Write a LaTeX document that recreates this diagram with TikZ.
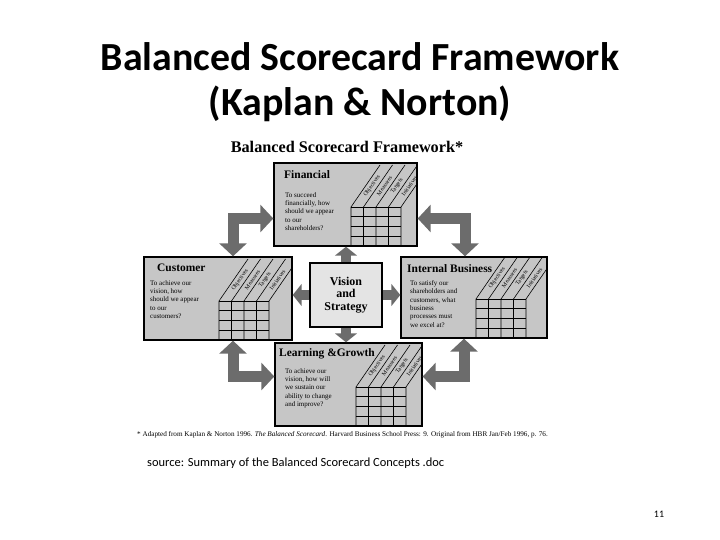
\documentclass[tikz,border=0pt]{standalone}
\usepackage{fontspec}
\setmainfont{Liberation Serif}
\newfontfamily\slidefont{Carlito}
\usetikzlibrary{arrows.meta,positioning,calc}
\definecolor{CardGray}{RGB}{198,198,198}
\definecolor{VisionGray}{RGB}{228,228,228}
\definecolor{ArrowGray}{RGB}{108,108,108}
\newcommand{\scgrid}[2]{%
  \begin{scope}
    \clip (#1.north west) rectangle (#1.south east);
    \begin{scope}[shift={(#2)},line width=0.6bp]
      \foreach \c in {0,12.5,25,37.5,50}
        \draw (\c,0) -- (\c,-39) -- ++(29,-42);
      \foreach \r in {-10,-20,-30,-39}
        \draw (0,\r) -- (50,\r);
      \foreach \lbl [count=\i] in {Objectives,Measures,Targets,Initiatives}
        \node[rotate=55,inner sep=0pt,font=\fontsize{5.8}{6}\selectfont] at (12.5*\i+8.5,-60) {\lbl};
    \end{scope}
  \end{scope}}

\begin{document}
\begin{tikzpicture}[x=1bp,y=-1bp,
  card/.style={draw=black,line width=1.4bp,fill=CardGray,inner sep=0pt},
  cardtitle/.style={anchor=north west,inner sep=0pt,font=\fontsize{11.5}{13}\selectfont\bfseries},
  cardtext/.style={anchor=north west,inner sep=0pt,align=left,font=\fontsize{7}{8.5}\selectfont},
  blk/.style={ArrowGray,line width=11bp,{Triangle[length=13bp,width=27bp]}-{Triangle[length=13bp,width=27bp]}},
  blkone/.style={ArrowGray,line width=10bp,-{Triangle[length=9bp,width=22bp]}}]
  \useasboundingbox (0,0) rectangle (720,540);

  \node[font=\slidefont\bfseries\fontsize{40}{45}\selectfont,align=center] (title) at (360,82)
    {Balanced Scorecard Framework\\(Kaplan \& Norton)};
  \node[font=\fontsize{16.3}{18}\selectfont\bfseries] (figtitle) at (347,147) {Balanced Scorecard Framework*};

  % the four perspectives
  \node[card,minimum width=143bp,minimum height=83bp] (fin) at (345.5,204.5) {};
  \node[card,minimum width=148bp,minimum height=83bp] (cust) at (218,298.5) {};
  \node[card,minimum width=146bp,minimum height=81bp] (int) at (474,297.5) {};
  \node[card,minimum width=147bp,minimum height=83bp] (learn) at (348.5,384.5) {};
  \node[card,fill=VisionGray,minimum width=72bp,minimum height=64bp,align=center,
    font=\fontsize{12}{12.5}\selectfont\bfseries] (vis) at (346,295) {Vision\\and\\Strategy};

  \node[cardtitle] (fin-title) at (284,170) {Financial};
  \node[cardtext] (fin-text) at (285,192) {To succeed\\financially, how\\should we appear\\to our\\shareholders?};
  \scgrid{fin}{351,246}
  \node[cardtitle] (cust-title) at (157,264) {Customer};
  \node[cardtext] (cust-text) at (150,280) {To achieve our\\vision, how\\should we appear\\to our\\customers?};
  \scgrid{cust}{219,340}
  \node[cardtitle] (int-title) at (407,264) {Internal Business};
  \node[cardtext] (int-text) at (410,280) {To satisfy our\\shareholders and\\customers, what\\business\\processes must\\we excel at?};
  \scgrid{int}{476,338}
  \node[cardtitle] (learn-title) at (279,348) {Learning \&Growth};
  \node[cardtext] (learn-text) at (285,368) {To achieve our\\vision, how will\\we sustain our\\ability to change\\and improve?};
  \scgrid{learn}{356,426}

  % arrows
  \draw[blkone] (vis.north) -- (vis.north |- fin.south);
  \draw[blkone] (vis.south) -- (vis.south |- learn.north);
  \draw[blkone] (vis.west) -- (vis.west -| cust.east);
  \draw[blkone] (vis.east) -- (vis.east -| int.west);
  \draw[blk] ([xshift=15bp]cust.north) |- ([yshift=-14bp]fin.west);
  \draw[blk] ([yshift=-14bp]fin.east) -| ([xshift=-9bp]int.north);
  \draw[blk] ([xshift=15bp]cust.south) |- ([yshift=8bp]learn.west);
  \draw[blk] ([xshift=-10bp]int.south) |- ([yshift=8bp]learn.east);

  \node[anchor=west,inner sep=0pt,font=\fontsize{7.2}{8}\selectfont] (foot) at (137,435)
    {* Adapted from Kaplan \& Norton 1996. \textit{The Balanced Scorecard}. Harvard Business School Press: 9. Original from HBR Jan/Feb 1996, p. 76.};
  \node[anchor=west,inner sep=0pt,font=\slidefont\fontsize{12.5}{14}\selectfont] (src) at (147,463)
    {source: Summary of the Balanced Scorecard Concepts .doc};
  \node[font=\slidefont\fontsize{10}{12}\selectfont] (page) at (659,514) {11};
\end{tikzpicture}
\end{document}
